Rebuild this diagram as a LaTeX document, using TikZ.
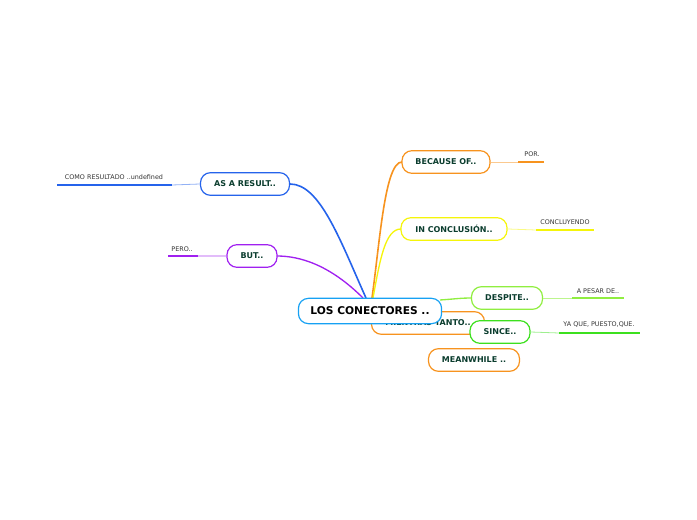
\documentclass[tikz,border=0pt]{standalone}
\usepackage{fontspec}
\setmainfont{DejaVu Sans}
\begin{document}
\begin{tikzpicture}[x=0.75pt,y=-0.75pt,
 topic/.style={draw=#1,line width=0.9pt,rounded corners=7.5pt,fill=white,minimum height=17pt,font=\fontsize{6}{7}\selectfont\bfseries,text=cteal,inner xsep=9pt},
 leaf/.style={font=\fontsize{4.8}{6}\selectfont,text=black!80,inner sep=1pt}]
\useasboundingbox (0,0) rectangle (697,520);
\definecolor{cteal}{HTML}{0B3D2E}
\definecolor{cblue}{HTML}{2563EB}\definecolor{cpur}{HTML}{A020F0}\definecolor{cor}{HTML}{F7931E}
\definecolor{cyel}{HTML}{F5F50A}\definecolor{clg}{HTML}{90EE40}\definecolor{cgr}{HTML}{3CE01E}
% curves
\draw[cblue,line width=1.2pt] (366,298) .. controls (340,240) and (320,184) .. (290,184);
\draw[cpur,line width=1pt] (363,298) .. controls (330,265) and (300,256) .. (277,256);
\draw[cor,line width=1.2pt] (372,298) .. controls (380,240) and (385,162) .. (402,162);
\draw[cyel,line width=1pt] (373,298) .. controls (380,260) and (385,229) .. (401,229);
\draw[clg,line width=1pt] (440,300) .. controls (455,299) and (460,298) .. (472,298);
% nodes
\node[topic=cor,minimum width=113*0.75pt] (mt) at (428,323) {\raisebox{-1.5pt}{MIENTRAS TANTO..}};
\node[topic=cblue!60!cyan,minimum width=143*0.75pt,font=\fontsize{8}{9}\selectfont\bfseries,text=black,minimum height=19pt] (root) at (370,311) {LOS CONECTORES ..};
\node[topic=cor,minimum width=91*0.75pt] (mw) at (474,360) {MEANWHILE ..};
\node[topic=cgr,minimum width=60*0.75pt] (si) at (500,332) {SINCE..};
\node[topic=clg,minimum width=71*0.75pt] (de) at (507,298) {DESPITE..};
\node[topic=cyel,minimum width=106*0.75pt] (ic) at (454,229) {IN CONCLUSIÓN..};
\node[topic=cor,minimum width=88*0.75pt] (bo) at (446,162) {BECAUSE OF..};
\node[topic=cblue,minimum width=89*0.75pt] (ar) at (245,184) {AS A RESULT..};
\node[topic=cpur,minimum width=50*0.75pt] (bu) at (252,256) {BUT..};
% leaves
\node[leaf] (l1) at (532,154) {POR.};
\coordinate (a1) at (518,162); \coordinate (b1) at (544,162);
\draw[cor!50,line width=0.6pt] (bo.east) -- (a1); \draw[cor,line width=1.3pt] (a1) -- (b1);
\node[leaf] (l2) at (565,222) {CONCLUYENDO};
\coordinate (a2) at (536,230); \coordinate (b2) at (594,230);
\draw[cyel!50,line width=0.6pt] (ic.east) -- (a2); \draw[cyel,line width=1.3pt] (a2) -- (b2);
\node[leaf] (l3) at (598,291) {A PESAR DE..};
\coordinate (a3) at (572,298); \coordinate (b3) at (624,298);
\draw[clg!60,line width=0.6pt] (de.east) -- (a3); \draw[clg,line width=1.3pt] (a3) -- (b3);
\node[leaf] (l4) at (599,325) {YA QUE, PUESTO,QUE.};
\coordinate (a4) at (559,333); \coordinate (b4) at (640,333);
\draw[cgr!50,line width=0.6pt] (si.east) -- (a4); \draw[cgr,line width=1.3pt] (a4) -- (b4);
\node[leaf] (l5) at (114,177) {COMO RESULTADO ..undefined};
\coordinate (a5) at (172,185); \coordinate (b5) at (57,185);
\draw[cblue!50,line width=0.6pt] (ar.west) -- (a5); \draw[cblue,line width=1.3pt] (a5) -- (b5);
\node[leaf] (l6) at (182,249) {PERO..};
\coordinate (a6) at (198,256); \coordinate (b6) at (168,256);
\draw[cpur!30,line width=0.8pt] (bu.west) -- (a6); \draw[cpur,line width=1.3pt] (a6) -- (b6);
\end{tikzpicture}
\end{document}
